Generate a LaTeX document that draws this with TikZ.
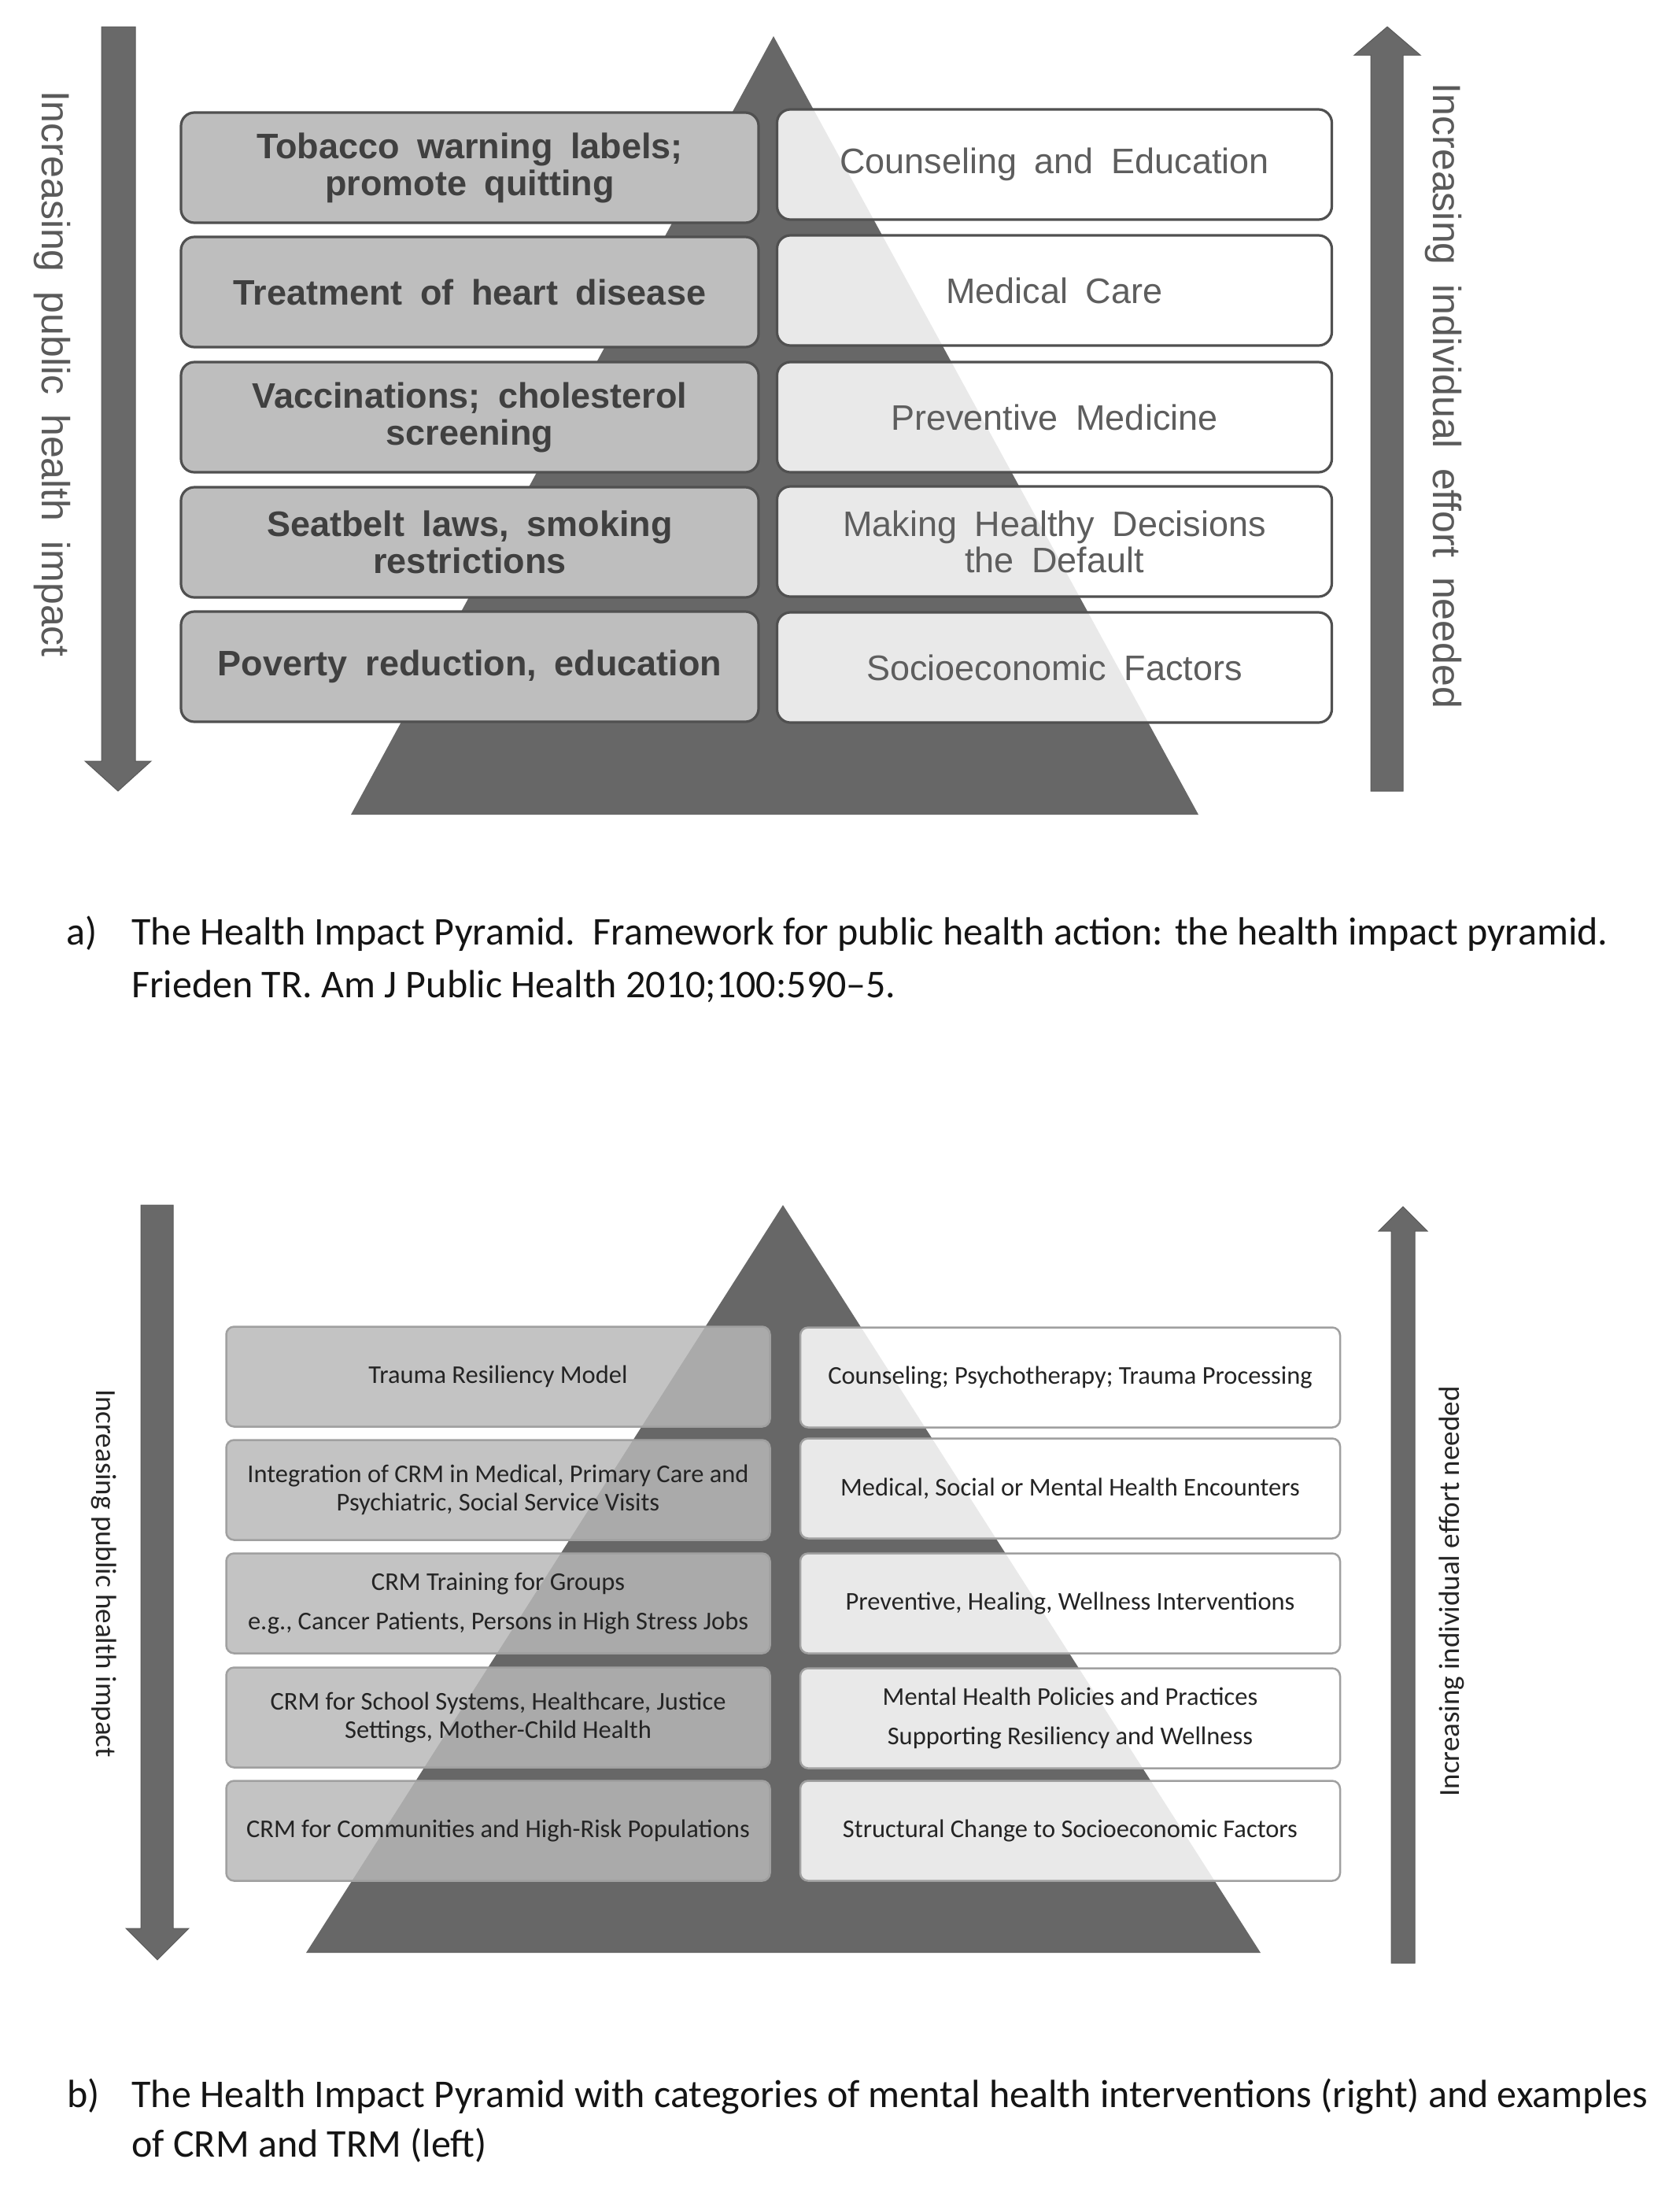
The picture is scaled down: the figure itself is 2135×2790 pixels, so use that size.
\documentclass[tikz,border=0pt]{standalone}
\usepackage{fontspec}
\setmainfont{Liberation Sans}
\newfontfamily\arialA[WordSpace=1.1]{Liberation Sans}
\newfontfamily\arialB[WordSpace=2.5]{Liberation Sans}
\newfontfamily\arialC[WordSpace=1.8]{Liberation Sans}
\newfontfamily\calib{Carlito}
\definecolor{pyr}{HTML}{676767}
\definecolor{arr}{HTML}{696969}
\definecolor{arredge}{HTML}{5A5A5A}
\definecolor{tlfill}{HTML}{BEBEBE}
\definecolor{tborder}{HTML}{505050}
\definecolor{tltext}{HTML}{404040}
\definecolor{trtext}{HTML}{5E5E5E}
\definecolor{sidetext}{HTML}{5A5A5A}
\definecolor{bfill}{HTML}{B8B8B8}
\definecolor{bborder}{HTML}{A0A0A0}
\definecolor{btext}{HTML}{242424}
\definecolor{captext}{HTML}{141414}
\tikzset{
  arrowshape/.style={fill=arr, draw=arredge, line width=0.5pt, line join=miter},
  tlbox/.style={draw=tborder, line width=1.6pt, fill=tlfill, rounded corners=8.5pt,
    minimum width=367pt, minimum height=70pt, inner sep=0pt, align=center,
    font=\arialA\bfseries\fontsize{22.5}{23.5}\selectfont, text=tltext},
  trbox/.style={draw=tborder, line width=1.6pt, fill=white, fill opacity=0.86, text opacity=1,
    rounded corners=8.5pt, minimum width=352.5pt, minimum height=70pt, inner sep=0pt,
    align=center, font=\arialB\fontsize{22.5}{23}\selectfont, text=trtext},
  blbox/.style={draw=bborder, line width=1.25pt, fill=bfill, fill opacity=0.83, text opacity=1,
    rounded corners=5pt, minimum width=345.5pt, minimum height=63.5pt, inner sep=0pt,
    align=center, font=\calib\fontsize{16.25}{18}\selectfont, text=btext},
  brbox/.style={draw=bborder, line width=1.25pt, fill=white, fill opacity=0.86, text opacity=1,
    rounded corners=5pt, minimum width=343pt, minimum height=63.5pt, inner sep=0pt,
    align=center, font=\calib\fontsize{16.25}{18}\selectfont, text=btext},
  sidetop/.style={font=\arialC\fontsize{25}{25}\selectfont, text=sidetext, inner sep=0pt},
  sidebot/.style={font=\calib\fontsize{18.5}{18.5}\selectfont, text=btext, inner sep=0pt},
  captionstyle/.style={font=\calib\fontsize{25}{30}\selectfont, text=captext, inner sep=0pt, anchor=base west},
}
\begin{document}
\begin{tikzpicture}[x=0.5pt,y=-0.5pt]
\useasboundingbox (0,0) rectangle (2135,2790);
\fill[white] (0,0) rectangle (2135,2790);

% ---------------- (a) ----------------
\fill[pyr] (983,46) -- (1523,1035) -- (446,1035) -- cycle;

\draw[arrowshape] (129,34) -- (172,34) -- (172,967) -- (192,967) -- (150,1005) -- (108,967) -- (129,967) -- cycle;
\draw[arrowshape] (1742,1005) -- (1742,70) -- (1721,70) -- (1763,34) -- (1805,70) -- (1783,70) -- (1783,1005) -- cycle;

\node[sidetop, rotate=-90] (lblTL) at (66,475) {Increasing public health impact};
\node[sidetop, rotate=-90] (lblTR) at (1834,503) {Increasing individual effort needed};

\node[tlbox] (tl1) at (597,213) {Tobacco warning labels;\\promote quitting};
\node[tlbox] (tl2) at (597,371) {Treatment of heart disease};
\node[tlbox] (tl3) at (597,530) {Vaccinations; cholesterol\\screening};
\node[tlbox] (tl4) at (597,689) {Seatbelt laws, smoking\\restrictions};
\node[tlbox] (tl5) at (597,847) {Poverty reduction, education};

\node[trbox] (tr1) at (1340,209) {Counseling and Education};
\node[trbox] (tr2) at (1340,369) {Medical Care};
\node[trbox] (tr3) at (1340,530) {Preventive Medicine};
\node[trbox] (tr4) at (1340,688) {Making Healthy Decisions\\the Default};
\node[trbox] (tr5) at (1340,848) {Socioeconomic Factors};

\node[captionstyle] (capAl) at (84,1200) {a)};
\node[captionstyle] (capA1) at (167,1200) {The Health Impact Pyramid.\ \ Framework for public health action: the health impact pyramid.};
\node[captionstyle] (capA2) at (167,1267) {Frieden TR. Am J Public Health 2010;100:590–5.};

% ---------------- (b) ----------------
\fill[pyr] (995,1531) -- (1602,2481) -- (389,2481) -- cycle;

\draw[arrowshape] (179,1531) -- (220,1531) -- (220,2450) -- (240,2450) -- (200,2490) -- (160,2450) -- (179,2450) -- cycle;
\draw[arrowshape] (1768,2494) -- (1768,1564) -- (1752,1564) -- (1783,1533) -- (1814,1564) -- (1798,1564) -- (1798,2494) -- cycle;

\node[sidebot, rotate=-90] (lblBL) at (132,1999) {Increasing public health impact};
\node[sidebot, rotate=90] (lblBR) at (1845,2022) {Increasing individual effort needed};

\node[blbox] (bl1) at (633,1749) {Trauma Resiliency Model};
\node[blbox] (bl2) at (633,1893) {Integration of CRM in Medical, Primary Care and\\Psychiatric, Social Service Visits};
\node[blbox] (bl3) at (633,2037) {CRM Training for Groups\\[7pt]e.g., Cancer Patients, Persons in High Stress Jobs};
\node[blbox] (bl4) at (633,2182) {CRM for School Systems, Healthcare, Justice\\Settings, Mother-Child Health};
\node[blbox] (bl5) at (633,2326) {CRM for Communities and High-Risk Populations};

\node[brbox] (br1) at (1360,1750) {Counseling; Psychotherapy; Trauma Processing};
\node[brbox] (br2) at (1360,1891) {Medical, Social or Mental Health Encounters};
\node[brbox] (br3) at (1360,2037) {Preventive, Healing, Wellness Interventions};
\node[brbox] (br4) at (1360,2183) {Mental Health Policies and Practices\\[7pt]Supporting Resiliency and Wellness};
\node[brbox] (br5) at (1360,2326) {Structural Change to Socioeconomic Factors};

\node[captionstyle] (capBl) at (85,2677) {b)};
\node[captionstyle] (capB1) at (167,2677) {The Health Impact Pyramid with categories of mental health interventions (right) and examples};
\node[captionstyle] (capB2) at (167,2740) {of CRM and TRM (left)};
\end{tikzpicture}
\end{document}
